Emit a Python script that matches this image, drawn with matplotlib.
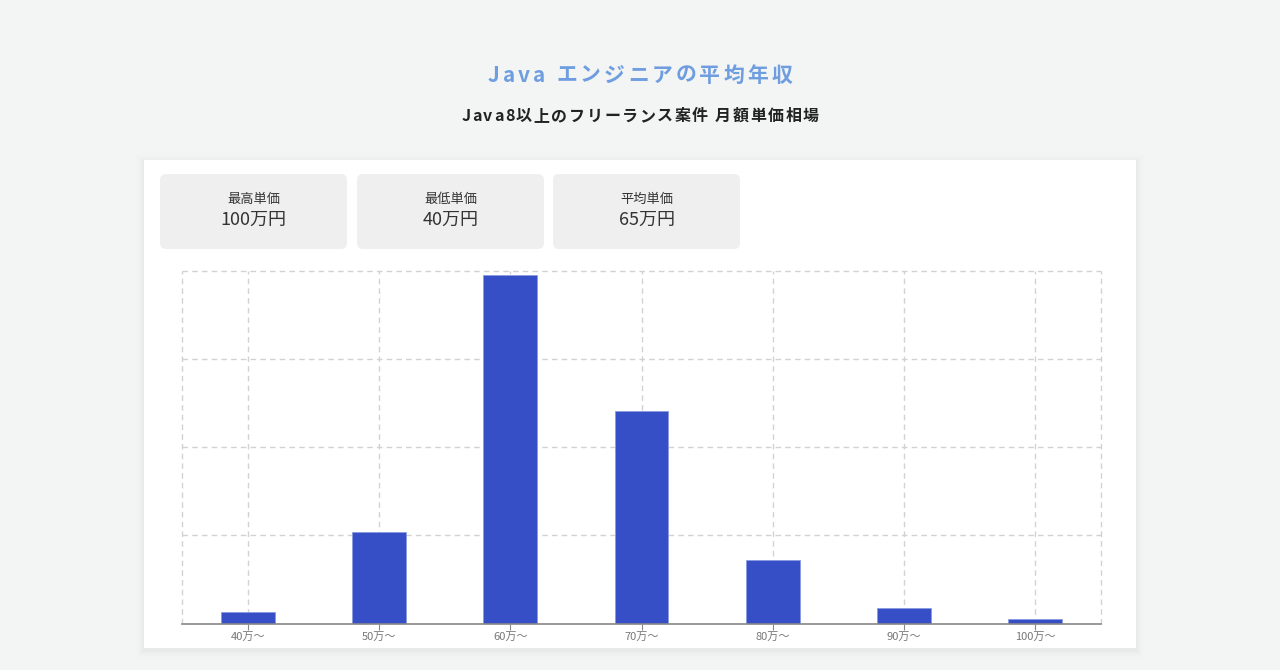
import matplotlib.pyplot as plt
from matplotlib.patches import Rectangle, FancyBboxPatch
import numpy as np

plt.rcParams['font.family'] = ['Noto Sans CJK JP', 'DejaVu Sans']

# Data
categories = ['40万〜', '50万〜', '60万〜', '70万〜', '80万〜', '90万〜', '100万〜']
values = [1.3, 10.4, 39.5, 24.1, 7.2, 1.8, 0.5]
card_labels = ['最高単価', '最低単価', '平均単価']
card_values = ['100万円', '40万円', '65万円']

title = 'Java エンジニアの平均年収'
subtitle = 'Java8以上のフリーランス案件 月額単価相場'

W, H = 1280, 670
fig = plt.figure(figsize=(W / 100, H / 100), dpi=100)
fig.patch.set_facecolor('#f3f4f4')

# background layer in pixel coordinates
bg = fig.add_axes([0, 0, 1, 1])
bg.set_xlim(0, W)
bg.set_ylim(H, 0)
bg.axis('off')
renderer = fig.canvas.get_renderer()


def spaced_text(s, cx, cy, spacing, **kw):
    # draw text char by char with extra letter spacing, centred on cx
    widths = []
    for ch in s:
        t = bg.text(0, cy, ch, ha='left', va='center', **kw)
        widths.append(t.get_window_extent(renderer).width)
        t.remove()
    total = sum(widths) + spacing * (len(s) - 1)
    xpos = cx - total / 2
    for ch, w in zip(s, widths):
        bg.text(xpos, cy, ch, ha='left', va='center', **kw)
        xpos += w + spacing


# panel with soft shadow
for i, a in enumerate([0.018, 0.012, 0.008, 0.005]):
    d = (i + 1) * 2
    bg.add_patch(Rectangle((144 - d, 160 - d + 2), 992 + 2 * d, 488 + 2 * d,
                           facecolor='#000000', alpha=a, lw=0))
bg.add_patch(Rectangle((144, 160), 992, 488, facecolor='white', lw=0))

# summary cards
card_x = [160, 357, 553]
for x, lab, val in zip(card_x, card_labels, card_values):
    bg.add_patch(FancyBboxPatch((x + 6, 174 + 6), 187 - 12, 75 - 12,
                                boxstyle='round,pad=6', facecolor='#efefef', lw=0))
    bg.text(x + 93.5, 199, lab, ha='center', va='center', fontsize=9.5, color='#333333')
    bg.text(x + 93.5, 220, val, ha='center', va='center', fontsize=13, color='#333333')

spaced_text(title, W / 2, 75, 3.0, fontsize=15, fontweight='bold', color='#6f9ee0')
spaced_text(subtitle, W / 2, 116, 1.6, fontsize=11.5, fontweight='bold', color='#222222')

# bar chart
ax = fig.add_axes([182 / W, (H - 623.5) / H, 919 / W, 352.5 / H])
ax.set_facecolor('none')
x = np.arange(len(categories))
ax.bar(x, values, width=0.41, color='#364fc7', edgecolor='#8a9be0', linewidth=0.6, zorder=3)
ax.set_xlim(-0.5, len(categories) - 0.5)
ax.set_ylim(0, 40)

grid_kw = dict(color='#d2d2d2', linestyle=(0, (4, 3)), linewidth=1, zorder=1, clip_on=False)
for yv in [10, 20, 30, 40]:
    ax.axhline(yv, **grid_kw)
for xv in list(x) + [-0.5, len(categories) - 0.5]:
    ax.axvline(xv, **grid_kw)

for s in ['left', 'right', 'top']:
    ax.spines[s].set_visible(False)
ax.spines['bottom'].set_color('#888888')
ax.spines['bottom'].set_linewidth(1.2)
ax.spines['bottom'].set_zorder(4)

ax.set_yticks([])
ax.set_xticks(x)
ax.set_xticklabels(categories, fontsize=8, color='#777777')
ax.tick_params(axis='x', length=4, color='#888888', pad=2)

fig.savefig('out.png', dpi=100, facecolor=fig.get_facecolor())
